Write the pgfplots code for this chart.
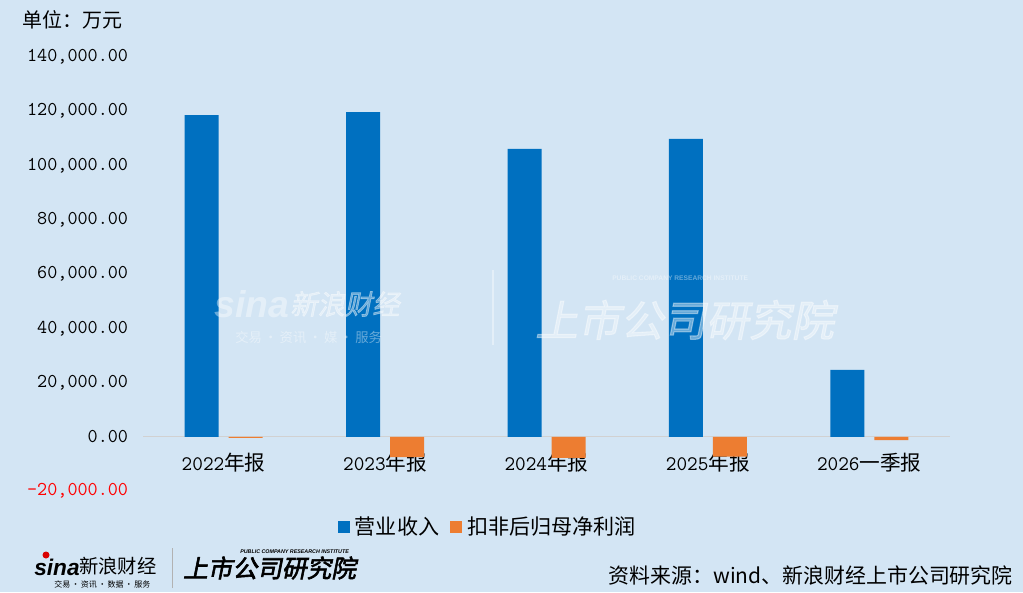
\documentclass[border=0pt]{standalone}
\usepackage{fontspec}
\usepackage{pgfplots}
\pgfplotsset{compat=1.18}
\setmainfont{Noto Sans CJK SC}
\newfontfamily\lat{Liberation Sans}
\newfontfamily\cjkslant[FakeSlant=0.2,FakeBold=2.5]{Noto Sans CJK SC}
\definecolor{bg}{HTML}{D3E5F4}
\definecolor{cblue}{HTML}{0070C0}
\definecolor{corange}{HTML}{ED7D31}
\begin{document}
\begin{tikzpicture}
\begin{scope}[x=0.75pt,y=0.75pt]
\fill[bg] (0,0) rectangle (1023,592);
\useasboundingbox (0,0) rectangle (1023,592);
\end{scope}
\begin{axis}[
  at={(107.25pt,75.75pt)}, anchor=south west,
  scale only axis, width=605.25pt, height=325.5pt,
  xmin=-0.5, xmax=4.5, ymin=-20000, ymax=140000,
  scaled y ticks=false,
  axis line style={draw=none}, major tick length=0pt,
  ytick={-20000,0,20000,40000,60000,80000,100000,120000,140000},
  yticklabels={\textcolor{red}{-20,000.00},0.00,{20,000.00},{40,000.00},{60,000.00},{80,000.00},{100,000.00},{120,000.00},{140,000.00}},
  xtick={0,1,2,3,4},
  xticklabels={{\ttfamily 2022}年报,{\ttfamily 2023}年报,{\ttfamily 2024}年报,{\ttfamily 2025}年报,{\ttfamily 2026}一季报},
  yticklabel style={anchor=east, inner sep=0pt, xshift=-11pt, font=\fontsize{14.7}{16}\ttfamily},
  xticklabel style={anchor=center, inner sep=0pt, yshift=21pt, font=\fontsize{15.5}{16}\selectfont},
  extra y ticks={0}, extra y tick labels={},
  extra y tick style={grid=major, major grid style={draw=black!18, line width=1pt}},
  legend style={at={(0.4275,-0.083)}, anchor=center, draw=none, fill=none,
    legend columns=2, font=\fontsize{15.8}{18}\selectfont,
    /tikz/every odd column/.append style={column sep=2pt},
    /tikz/every even column/.append style={column sep=6pt}},
  legend image code/.code={\fill[#1] (0pt,-4.5pt) rectangle (9pt,4.5pt);},
]
\addplot[ybar, bar width=25.5pt, bar shift=-16.5pt, fill=cblue, draw=none]
  coordinates {(0,118600) (1,119700) (2,106100) (3,109800) (4,24700)};
\addlegendentry{营业收入}
\addplot[ybar, bar width=25.5pt, bar shift=16.5pt, fill=corange, draw=none]
  coordinates {(0,-400) (1,-7500) (2,-7800) (3,-7300) (4,-1200)};
\addlegendentry{扣非后归母净利润}
\end{axis}
\begin{scope}[x=0.75pt,y=0.75pt]
% title and source
\node[anchor=west, inner sep=0pt, font=\fontsize{15}{18}\selectfont] at (22,572) {单位：万元};
\node[anchor=east, inner sep=0pt, font=\fontsize{15.7}{18}\selectfont] at (1013,16) {资料来源：wind、新浪财经上市公司研究院};
% bottom-left logo
\node[anchor=west, inner sep=0pt, font=\lat\bfseries\itshape\fontsize{17}{17}\selectfont] at (34,25) {sina};
\fill[red!85!black] (46,37) circle (3.5);
\node[anchor=west, inner sep=0pt, font=\fontsize{14.5}{15}\selectfont] at (79,26) {新浪财经};
\node[anchor=west, inner sep=0pt, font=\fontsize{6}{6.5}\selectfont] at (54,8) {交易\,·\,资讯\,·\,数据\,·\,服务};
\draw[black!30] (172,4) -- (172,44);
\node[anchor=west, inner sep=0pt, font=\cjkslant\fontsize{18.5}{19}\selectfont] at (183,24) {上市公司研究院};
\node[anchor=west, inner sep=0pt, font=\lat\bfseries\itshape\fontsize{4}{4}\selectfont] at (240,40) {PUBLIC COMPANY RESEARCH INSTITUTE};
% watermark
\begin{scope}[opacity=0.4, white]
\node[anchor=west, inner sep=0pt, font=\lat\bfseries\itshape\fontsize{28}{28}\selectfont] at (214,288) {sina};
\node[anchor=west, inner sep=0pt, font=\cjkslant\fontsize{20.5}{21}\selectfont] at (290,288) {新浪财经};
\node[anchor=west, inner sep=0pt, font=\fontsize{10}{10}\selectfont] at (235,255) {交易\,·\,资讯\,·\,媒\,·\,服务};
\draw[line width=1.5pt] (493,247) -- (493,322);
\node[anchor=west, inner sep=0pt, font=\cjkslant\fontsize{32}{32}\selectfont] at (535,272) {上市公司研究院};
\node[anchor=west, inner sep=0pt, font=\lat\bfseries\fontsize{5}{5}\selectfont] at (612,314) {PUBLIC COMPANY RESEARCH INSTITUTE};
\end{scope}
\end{scope}
\end{tikzpicture}
\end{document}
